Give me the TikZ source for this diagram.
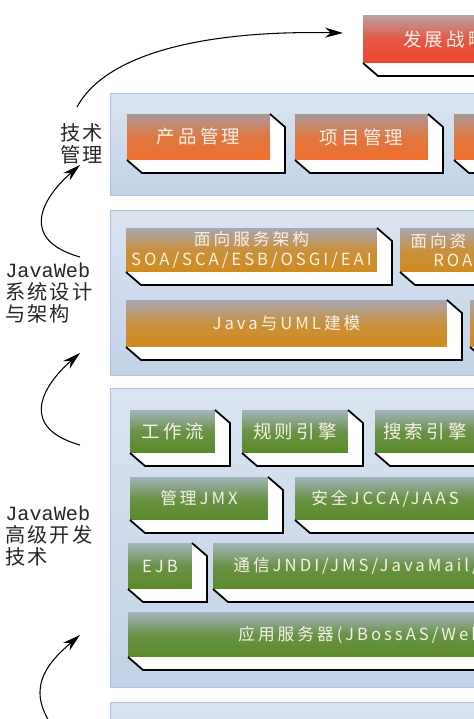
\documentclass[tikz,border=0pt]{standalone}
\usepackage{fontspec}
\usepackage{tikz}
\usetikzlibrary{calc,arrows.meta}
\newfontfamily\boxfont[LetterSpace=18]{Noto Sans CJK SC}
\newfontfamily\lblfont[LetterSpace=10]{Noto Sans CJK SC}
\newfontfamily\lblmono{Liberation Mono}

\definecolor{redTop}{HTML}{B8A2A0}
\definecolor{redBot}{HTML}{EE4530}
\definecolor{orTop}{HTML}{A89896}
\definecolor{orBot}{HTML}{EF6F2D}
\definecolor{goldTop}{HTML}{A8A6B4}
\definecolor{goldBot}{HTML}{D08B1E}
\definecolor{grnTop}{HTML}{A2B4BC}
\definecolor{grnBot}{HTML}{5A8A29}
\definecolor{faceText}{HTML}{F6F1E6}
\definecolor{panelTop}{HTML}{DAE4F1}
\definecolor{panelBot}{HTML}{C2D2E7}
\definecolor{panelLine}{HTML}{AEC2DC}

% white side and bottom of a box
\newcommand\slab[1]{%
  \fill[white] (#1.north east) -- ++(15,13) |- ($(#1.south west)+(15,13)$)
               -- (#1.south west) -- (#1.south east) -- cycle;
  \draw[slabline] (#1.north east) -- ++(15,13) |- ($(#1.south west)+(15,13)$)
               -- (#1.south west);
}

\begin{document}
\begin{tikzpicture}[x=0.2mm, y=-0.2mm,
    panel/.style={top color=panelTop, bottom color=panelBot, draw=panelLine},
    face/.style 2 args={anchor=north west, inner sep=0pt, outer sep=0pt,
      top color=#1, bottom color=#2, middle color=#2!80!#1, text=faceText,
      font=\boxfont\fontsize{9.5}{11.5}\selectfont, align=center},
    wh/.style 2 args={minimum width=#1*0.2mm, minimum height=#2*0.2mm},
    big/.style={font=\boxfont\fontsize{10.5}{12}\selectfont},
    redbox/.style={face={redTop}{redBot}},
    orbox/.style={face={orTop}{orBot}},
    goldbox/.style={face={goldTop}{goldBot}},
    grnbox/.style={face={grnTop}{grnBot}},
    facetext/.style={anchor=west, inner sep=0pt, text=faceText,
      font=\boxfont\fontsize{9.5}{11.5}\selectfont},
    slabline/.style={black, line width=1pt},
    sidelabel/.style={anchor=west, inner sep=0pt, align=left, text=black!85,
      font=\lblfont\fontsize{11.5}{12.3}\selectfont},
    lift/.style={-{Stealth[length=3.6mm, width=2mm]}, line width=0.6pt}]
  \clip (0,0) rectangle (474,719);

  % top
  \node[redbox, big, wh={164}{48}] (strat) at (363,15) {发展战略};
  \slab{strat}

  % panel 1
  \draw[panel] (110,93) rectangle (490,195);
  \node[orbox, big, wh={143}{46}] (prod) at (127,114) {产品管理};
  \slab{prod}
  \node[orbox, big, wh={133}{46}] (proj) at (295,114) {项目管理};
  \slab{proj}
  \node[orbox, wh={140}{46}] (more) at (454,114) {};
  \slab{more}

  % panel 2
  \draw[panel] (110,210) rectangle (490,375);
  \node[goldbox, wh={251}{44}] (soa) at (126,228) {面向服务架构\\SOA/SCA/ESB/OSGI/EAI};
  \slab{soa}
  \node[goldbox, wh={200}{44}] (roa) at (400,228) {};
  \slab{roa}
  \node[facetext] (roaA) at (410,241) {面向资};
  \node[facetext] (roaB) at (433,261) {ROA/};
  \node[goldbox, wh={321}{47}] (uml) at (126,300) {Java与UML建模};
  \slab{uml}
  \node[goldbox, wh={100}{47}] (umlnext) at (470,300) {};
  \slab{umlnext}

  % panel 3
  \draw[panel] (110,388) rectangle (490,687);
  \node[grnbox, big, wh={85}{43}] (flow) at (130,410) {工作流};
  \slab{flow}
  \node[grnbox, big, wh={106}{43}] (rule) at (242,410) {规则引擎};
  \slab{rule}
  \node[grnbox, big, wh={100}{43}] (search) at (375,410) {搜索引擎};
  \slab{search}
  \node[grnbox, wh={138}{43}] (jmx) at (130,477) {管理JMX};
  \slab{jmx}
  \node[grnbox, wh={180}{43}] (sec) at (295,477) {安全JCCA/JAAS};
  \slab{sec}
  \node[grnbox, wh={64}{46}] (ejb) at (128,543) {EJB};
  \slab{ejb}
  \node[grnbox, wh={300}{46}] (comm) at (213,543) {};
  \slab{comm}
  \node[facetext] (commtxt) at (233,566) {通信JNDI/JMS/JavaMail/};
  \node[grnbox, wh={400}{45}] (appsrv) at (128,612) {};
  \slab{appsrv}
  \node[facetext] (appsrvtxt) at (238,635) {应用服务器(JBossAS/Web};

  % panel 4
  \draw[panel] (110,702) rectangle (490,760);

  % left labels
  \node[sidelabel] (tm) at (60,144) {技术\\管理};
  \node[sidelabel] (sd) at (5,293) {{\lblmono JavaWeb}\\系统设计\\与架构};
  \node[sidelabel] (ad) at (5,536) {{\lblmono JavaWeb}\\高级开发\\技术};

  % arrows
  \coordinate (a1s) at (77,107);
  \coordinate (a1e) at (343,33);
  \coordinate (a2s) at (80,257);
  \coordinate (a2e) at (80,165);
  \coordinate (a3s) at (80,445);
  \coordinate (a3e) at (80,353);
  \coordinate (a4s) at (55,730);
  \coordinate (a4e) at (80,635);
  \draw[lift] (a1s) .. controls (105,55) and (200,30) .. (a1e);
  \draw[lift] (a2s) .. controls (20,240) and (40,200) .. (a2e);
  \draw[lift] (a3s) .. controls (20,428) and (40,388) .. (a3e);
  \draw[lift] (a4s) .. controls (25,690) and (45,665) .. (a4e);
\end{tikzpicture}
\end{document}
